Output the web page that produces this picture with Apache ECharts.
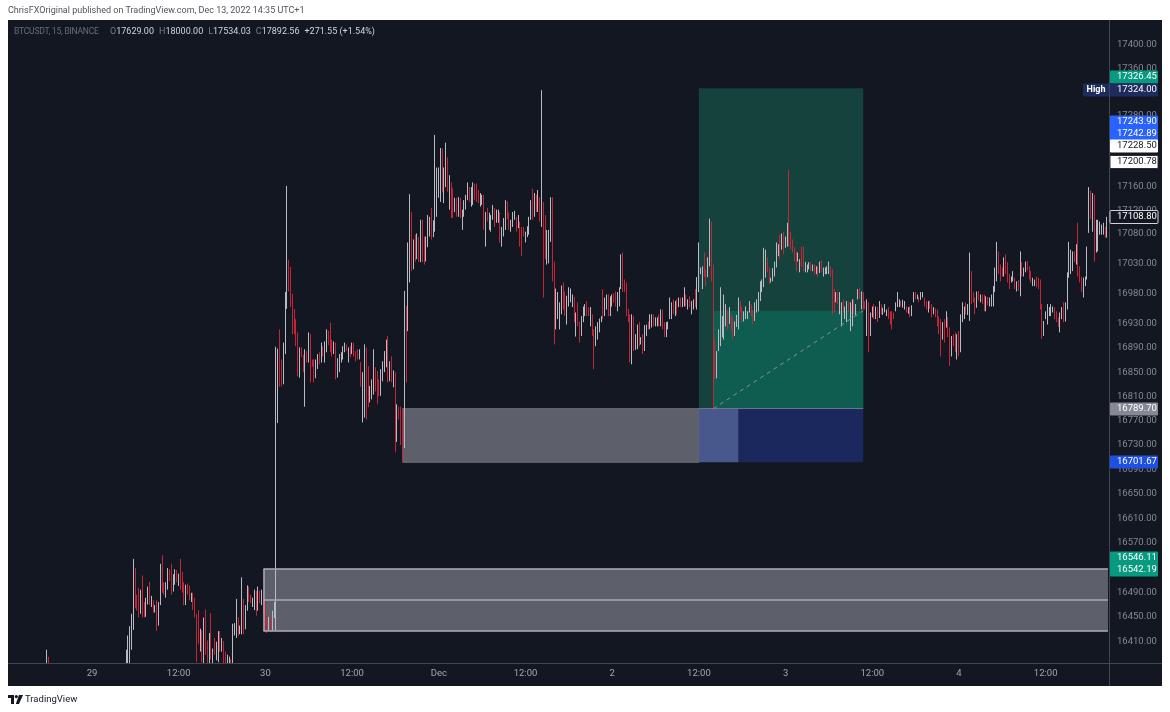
<!DOCTYPE html>
<html><head><meta charset="utf-8">
<script src="https://cdn.jsdelivr.net/npm/echarts@6/dist/echarts.min.js"></script>
<style>
html,body{margin:0;padding:0;background:#fff;}
#wrap{position:relative;width:1170px;height:712px;overflow:hidden;font-family:Roboto,'Liberation Sans',sans-serif;}
#panel{position:absolute;left:8px;top:20px;width:1154px;height:666px;background:#131722;}
#vsep{position:absolute;left:1109px;top:20px;width:1px;height:666px;background:#434651;}
#hsep{position:absolute;left:8px;top:663px;width:1154px;height:1px;background:#434651;}
#chart{position:absolute;left:0;top:0;width:1170px;height:712px;}
.t{position:absolute;white-space:pre;font-size:9.5px;line-height:12px;}
#legend{position:absolute;left:110px;top:25px;display:flex;gap:5px;font-size:9px;line-height:12px;white-space:pre;}
.lg{color:#787b86;} .lv{color:#d1d4dc;}
</style></head><body>
<div id="wrap">
<div id="panel"></div><div id="vsep"></div>
<div id="chart"></div>
<div id="hsep"></div>
<div class="t" style="left:8px;top:4px;color:#50535e;font-size:9px">ChrisFXOriginal published on TradingView.com, Dec 13, 2022 14:35 UTC+1</div>
<div class="t" style="left:14px;top:25px;color:#6a6d78;font-size:8.5px;letter-spacing:-0.2px">BTCUSDT, 15, BINANCE</div>
<div id="legend"><span><span class="lg">O</span><span class="lv">17629.00</span></span><span><span class="lg">H</span><span class="lv">18000.00</span></span><span><span class="lg">L</span><span class="lv">17534.03</span></span><span><span class="lg">C</span><span class="lv">17892.56</span></span><span class="lv">+271.55 (+1.54%)</span></div>
<svg style="position:absolute;left:8px;top:695px" width="15" height="9" viewBox="0 0 15 9"><path d="M0 0h6v9h-3v-6h-3z" fill="#131722"/><circle cx="8.3" cy="1.6" r="1.6" fill="#131722"/><path d="M11 0h4l-4 9h-3.2z" fill="#131722"/></svg>
<div class="t" style="left:25px;top:693px;color:#131722;font-size:9.5px">TradingView</div>
</div>
<script>
// ---- candles [open, close, low, high], 15-minute bars ----
const nov28 = [
[16255,16262,16250,16268],[16262,16258,16251,16266],[16262,16275,16255,16281],[16275,16268,16260,16282],[16268,16284,16264,16290],[16284,16279,16271,16292],[16279,16296,16275,16301],[16296,16288,16281,16303],[16288,16301,16284,16309],[16301,16312,16295,16318],[16312,16305,16298,16320],[16305,16318,16300,16326],
[16318,16327,16311,16335],[16327,16316,16309,16333],[16316,16324,16310,16331],[16324,16338,16319,16344],[16338,16330,16322,16347],[16330,16341,16326,16350],[16341,16352,16336,16360],[16352,16343,16337,16362],[16343,16350,16338,16358],[16350,16357,16344,16364],[16357,16349,16342,16366],[16349,16368,16345,16397],
[16368,16352,16346,16386],[16352,16340,16333,16360],[16340,16331,16322,16348],[16331,16318,16310,16339],[16318,16325,16309,16333],[16325,16311,16302,16330],[16311,16298,16290,16318],[16298,16305,16291,16313],[16305,16292,16285,16310],[16292,16280,16271,16299],[16280,16288,16274,16295],[16288,16276,16268,16293],
[16276,16264,16255,16283],[16264,16270,16258,16277],[16270,16259,16250,16276],[16259,16248,16240,16265],[16248,16256,16243,16262],[16256,16245,16238,16261],[16245,16252,16239,16259],[16252,16263,16247,16270],[16263,16255,16249,16268],[16255,16266,16251,16272],[16266,16258,16252,16271],[16258,16270,16254,16276]
];
const nov29 = [
[16270,16262,16256,16275],[16262,16274,16258,16280],[16274,16281,16268,16288],[16281,16276,16270,16290],[16276,16289,16272,16295],[16289,16298,16283,16305],[16298,16291,16285,16304],[16291,16303,16288,16310],[16303,16314,16297,16320],[16314,16306,16300,16319],[16306,16318,16302,16325],[16318,16327,16311,16334],
[16327,16321,16314,16333],[16321,16334,16318,16340],[16334,16342,16328,16350],[16342,16337,16330,16352],[16337,16348,16333,16356],[16348,16355,16341,16362],[16355,16350,16344,16366],[16352,16372,16346,16397],[16372,16390,16366,16420],[16390,16425,16368,16435],[16425,16450,16397,16455],[16450,16535,16429,16544],
[16527,16478,16464,16529],[16478,16470,16460,16486],[16470,16458,16449,16497],[16458,16490,16455,16494],[16490,16460,16449,16517],[16460,16452,16449,16474],[16452,16476,16450,16481],[16476,16495,16470,16499],[16495,16472,16469,16507],[16472,16478,16466,16484],[16476,16460,16457,16477],[16460,16468,16457,16469],
[16468,16440,16427,16477],[16440,16470,16436,16474],[16470,16528,16469,16536],[16528,16495,16489,16550],[16495,16488,16486,16506],[16488,16502,16481,16506],[16502,16522,16494,16529],[16522,16515,16508,16527],[16515,16492,16486,16536],[16492,16516,16491,16519],[16510,16524,16502,16527],[16524,16508,16506,16526],
[16508,16512,16500,16520],[16512,16498,16494,16544],[16498,16490,16489,16523],[16490,16472,16469,16506],[16472,16500,16469,16502],[16500,16492,16486,16504],[16492,16480,16477,16501],[16480,16486,16474,16489],[16486,16466,16461,16489],[16466,16452,16449,16481],[16452,16425,16377,16455],[16440,16410,16406,16461],
[16410,16425,16394,16431],[16425,16395,16377,16428],[16395,16440,16370,16449],[16440,16400,16389,16462],[16400,16392,16375,16412],[16392,16420,16368,16424],[16420,16390,16381,16456],[16390,16398,16368,16399],[16398,16392,16389,16416],[16392,16402,16380,16410],[16400,16420,16377,16427],[16424,16400,16394,16427],
[16400,16410,16394,16416],[16410,16385,16372,16411],[16385,16378,16366,16394],[16378,16388,16369,16389],[16380,16386,16372,16386],[16382,16375,16370,16382],[16375,16430,16368,16439],[16430,16436,16420,16440],[16436,16445,16416,16479],[16445,16428,16419,16449],[16428,16435,16422,16436],[16435,16500,16422,16514],
[16478,16432,16422,16479],[16432,16462,16430,16469],[16462,16495,16460,16501],[16495,16478,16474,16499],[16478,16474,16472,16486],[16474,16479,16466,16481],[16479,16490,16461,16494],[16490,16462,16452,16492],[16462,16492,16460,16499],[16492,16478,16472,16493],[16478,16490,16469,16494],[16490,16462,16456,16492]
];
const nov30 = [
[16462,16440,16430,16477],[16440,16432,16424,16452],[16432,16445,16428,16450],[16445,16430,16426,16448],[16430,16456,16428,16460],[16456,16462,16448,16474],[16462,16785,16428,16892],[16785,16875,16766,16889],[16875,16840,16826,16921],[16840,16833,16826,16871],[16833,16895,16830,16899],[16895,16970,16880,16983],
[16970,17030,16955,17161],[17030,16990,16984,17037],[16990,16970,16958,17025],[16970,16935,16913,16980],[16935,16920,16913,16955],[16920,16900,16893,16938],[16900,16853,16843,16916],[16853,16880,16841,16891],[16880,16877,16875,16891],[16877,16855,16850,16879],[16855,16880,16793,16888],[16880,16869,16866,16885],
[16869,16907,16866,16916],[16907,16865,16833,16913],[16865,16861,16859,16871],[16861,16840,16833,16871],[16840,16865,16840,16871],[16865,16875,16855,16880],[16875,16871,16863,16883],[16871,16893,16866,16899],[16893,16879,16876,16893],[16879,16895,16866,16901],[16895,16913,16883,16921],[16913,16905,16895,16919],
[16905,16887,16883,16932],[16887,16880,16876,16904],[16880,16897,16880,16901],[16897,16845,16838,16899],[16845,16867,16841,16873],[16867,16875,16850,16880],[16873,16881,16866,16883],[16881,16887,16871,16893],[16887,16895,16883,16899],[16895,16887,16885,16896],[16887,16890,16866,16891],[16890,16885,16875,16893],
[16885,16897,16880,16899],[16897,16880,16876,16899],[16880,16871,16868,16885],[16885,16875,16871,16888],[16875,16885,16871,16888],[16863,16835,16826,16867],[16835,16845,16767,16850],[16845,16885,16775,16896],[16885,16815,16772,16891],[16815,16807,16792,16860],[16807,16820,16800,16827],[16813,16830,16805,16838],
[16830,16875,16813,16888],[16855,16825,16818,16858],[16825,16807,16797,16852],[16830,16815,16810,16838],[16815,16850,16811,16855],[16850,16863,16835,16868],[16863,16880,16850,16885],[16880,16897,16858,16904],[16897,16840,16833,16910],[16840,16863,16835,16868],[16863,16840,16833,16876],[16840,16845,16825,16853],
[16845,16755,16718,16850],[16755,16790,16735,16797],[16790,16777,16772,16793],[16777,16740,16730,16793],[16740,16730,16702,16788],[16733,16955,16725,16985],[16955,16920,16833,16960],[16920,17055,16918,17066],[17055,17125,16999,17147],[17115,17030,17018,17117],[17030,17065,17021,17071],[17065,17040,17034,17079],
[17040,17073,17038,17081],[17073,17037,17033,17075],[17037,17095,17033,17104],[17095,17045,17033,17104],[17045,17035,17029,17076],[17035,17070,17034,17076],[17070,17085,17058,17112],[17085,17107,17076,17109],[17107,17080,17071,17124],[17080,17095,17075,17103],[17095,17135,17084,17247],[17135,17155,17109,17192]
];
const dec1 = [
[17145,17185,17141,17192],[17155,17215,17134,17225],[17215,17165,17150,17224],[17145,17180,17132,17192],[17175,17225,17159,17234],[17205,17160,17151,17209],[17135,17173,17121,17179],[17165,17115,17107,17167],[17145,17113,17107,17157],[17119,17139,17117,17141],[17137,17113,17109,17141],[17113,17135,17109,17142],
[17135,17111,17107,17141],[17093,17115,17087,17121],[17113,17133,17109,17137],[17127,17143,17121,17146],[17140,17163,17137,17167],[17157,17137,17134,17159],[17131,17153,17126,17159],[17135,17161,17129,17167],[17161,17141,17137,17165],[17155,17140,17134,17165],[17150,17135,17132,17154],[17130,17147,17126,17149],
[17135,17145,17129,17146],[17145,17095,17087,17146],[17065,17110,17059,17117],[17120,17105,17101,17124],[17093,17113,17087,17116],[17089,17109,17084,17112],[17107,17125,17104,17129],[17123,17097,17092,17124],[17101,17117,17099,17121],[17103,17119,17099,17121],[17115,17073,17066,17117],[17063,17089,17059,17092],
[17083,17103,17076,17107],[17095,17131,17087,17137],[17131,17113,17105,17135],[17113,17093,17087,17116],[17089,17101,17084,17104],[17097,17113,17092,17117],[17107,17117,17104,17119],[17107,17089,17084,17109],[17093,17107,17090,17112],[17099,17070,17059,17101],[17087,17053,17043,17092],[17090,17079,17076,17092],
[17070,17081,17066,17084],[17081,17087,17075,17093],[17085,17105,17079,17109],[17107,17133,17104,17137],[17145,17111,17104,17156],[17113,17141,17109,17149],[17143,17121,17117,17146],[17121,17147,17117,17154],[17140,17105,17101,17142],[17105,17130,17092,17323],[17130,17055,16974,17134],[17105,17043,17038,17112],
[17035,17080,17029,17087],[17055,17083,17031,17087],[17075,17135,17067,17142],[17135,17010,17001,17142],[17025,16920,16896,17034],[16925,16980,16921,16989],[16945,16975,16938,16983],[16930,16957,16921,16966],[16953,16987,16946,16994],[16993,16961,16954,16999],[16980,16950,16943,16984],[16940,16970,16929,16977],
[16965,16985,16959,16991],[16970,16987,16966,16989],[16963,16977,16958,16979],[16973,16940,16933,16975],[16915,16945,16909,16949],[16963,16933,16926,16966],[16933,16905,16899,16934],[16913,16939,16910,16943],[16937,16955,16933,16959],[16947,16960,16943,16963],[16965,16947,16943,16968],[16955,16945,16943,16958],
[16931,16953,16926,16958],[16945,16915,16910,16946],[16915,16895,16855,16921],[16897,16921,16893,16926],[16910,16929,16904,16933],[16920,16935,16916,16939],[16934,16941,16933,16943],[16980,16943,16938,16988],[16945,16970,16943,16974],[16957,16975,16954,16979],[16975,16947,16943,16979],[16947,16971,16943,16976]
];
const dec2 = [
[16963,16977,16959,16979],[16977,16970,16965,16981],[16980,16963,16959,16984],[16957,16977,16951,16983],[16965,16987,16959,16991],[16990,17035,16988,17046],[17035,16993,16983,17049],[17000,16987,16983,17004],[16993,16950,16943,16999],[16950,16940,16933,16955],[16940,16875,16866,16946],[16875,16935,16863,16946],
[16935,16893,16885,16943],[16893,16905,16887,16913],[16900,16925,16888,16929],[16927,16900,16893,16933],[16898,16907,16896,16908],[16907,16885,16880,16913],[16887,16923,16885,16928],[16913,16927,16910,16929],[16931,16923,16921,16934],[16923,16941,16921,16946],[16930,16943,16924,16946],[16943,16929,16926,16946],
[16929,16939,16926,16941],[16931,16940,16926,16941],[16943,16930,16926,16946],[16931,16950,16926,16954],[16951,16927,16921,16954],[16930,16913,16908,16933],[16913,16929,16908,16933],[16925,16932,16921,16934],[16940,16967,16938,16974],[16945,16961,16938,16966],[16967,16951,16946,16971],[16949,16965,16943,16968],
[16967,16950,16946,16971],[16959,16971,16958,16974],[16971,16961,16958,16974],[16961,16972,16958,16974],[16963,16987,16959,16991],[16977,16963,16959,16979],[16957,16969,16954,16971],[16973,16961,16958,16976],[16950,16965,16946,16968],[16957,16969,16954,16971],[16980,16961,16958,16988],[16961,17000,16954,17008],
[16990,17055,16983,17066],[17015,17023,17013,17024],[16993,17020,16988,17026],[17040,17015,17009,17049],[17017,16997,16993,17021],[17010,17035,17008,17041],[17035,17095,17026,17106],[17095,17025,17001,17101],[17025,16855,16789,17029],[16855,16843,16838,16904],[16843,16875,16840,16885],[16887,16915,16885,16921],
[16900,16980,16893,16991],[16915,16939,16908,16943],[16925,16970,16904,16979],[16935,16957,16926,16963],[16953,16927,16921,16954],[16930,16953,16930,16958],[16945,16923,16918,16946],[16930,16910,16904,16941],[16913,16931,16910,16934],[16931,16939,16925,16945],[16927,16967,16921,16974],[16967,16953,16949,16968],
[16955,16937,16933,16959],[16937,16949,16934,16951],[16941,16957,16938,16959],[16940,16950,16938,16951],[16951,16965,16949,16968],[16963,16947,16943,16963],[16950,16933,16929,16954],[16935,16961,16935,16966],[16953,16967,16949,16971],[16957,16979,16951,16983],[16973,16995,16968,17001],[16995,17001,16983,17004],
[16995,17050,16991,17057],[17015,17047,17007,17054],[17040,17020,17016,17041],[17021,17000,16996,17024],[17000,17005,16999,17007],[17005,17017,17001,17023],[17013,17031,17009,17034],[17027,17060,17024,17066],[17045,17059,17043,17063],[17061,17043,17038,17079],[17055,17077,17054,17081],[17080,17050,17046,17084]
];
const dec3 = [
[17057,17073,17057,17076],[17065,17093,17059,17099],[17093,17065,17059,17188],[17075,17057,17054,17084],[17067,17053,17049,17071],[17053,17037,17034,17058],[17045,17023,17018,17051],[17035,17047,17034,17049],[17020,17035,17016,17038],[17055,17030,17026,17059],[17053,17025,17018,17059],[17020,17031,17016,17033],
[17021,17028,17016,17029],[17023,17031,17021,17033],[17031,17021,17018,17033],[17020,17028,17018,17029],[17028,17016,17013,17029],[17015,17025,17013,17026],[17025,17012,17009,17026],[17015,17031,17015,17034],[17033,17019,17016,17036],[17013,17022,17009,17024],[17015,17023,17013,17024],[17017,17025,17013,17026],
[17019,17031,17013,17034],[17025,17013,17009,17026],[17013,16955,16946,17021],[16980,16957,16949,16988],[16968,16980,16966,16983],[16981,16965,16963,16983],[16950,16977,16946,16983],[16933,16961,16926,16966],[16967,16952,16949,16971],[16941,16955,16938,16959],[16937,16963,16933,16968],[16963,16955,16950,16967],
[16925,16957,16918,16966],[16935,16965,16926,16971],[16967,16950,16946,16971],[16950,16957,16945,16963],[16971,16985,16971,16988],[16985,16977,16972,16990],[16957,16980,16954,16984],[16980,16957,16954,16983],[16965,16955,16954,16968],[16920,16963,16910,16971],[16960,16900,16883,16966],[16913,16943,16910,16949],
[16943,16955,16941,16959],[16957,16941,16938,16963],[16941,16957,16938,16959],[16955,16937,16933,16958],[16940,16963,16940,16968],[16961,16949,16946,16963],[16949,16953,16945,16957],[16951,16960,16949,16963],[16945,16952,16943,16954],[16955,16941,16938,16958],[16945,16933,16929,16951],[16937,16925,16921,16951],
[16947,16940,16938,16949],[16953,16963,16951,16966],[16961,16979,16958,16983],[16960,16969,16958,16971],[16967,16961,16959,16968],[16961,16965,16957,16970],[16957,16966,16954,16968],[16958,16951,16949,16959],[16951,16955,16947,16958],[16953,16945,16941,16959],[16945,16957,16943,16961],[16967,16980,16966,16983],
[16980,16975,16971,16983],[16973,16977,16971,16979],[16974,16968,16966,16975],[16970,16981,16970,16983],[16975,16981,16974,16983],[16973,16963,16959,16974],[16965,16957,16954,16968],[16953,16965,16949,16968],[16965,16961,16955,16969],[16961,16945,16941,16963],[16947,16956,16946,16958],[16955,16945,16941,16956],
[16951,16930,16926,16954],[16939,16917,16913,16943],[16930,16890,16876,16938],[16907,16927,16904,16933],[16930,16905,16899,16938],[16925,16947,16924,16951],[16940,16913,16908,16941],[16920,16875,16860,16924],[16880,16905,16876,16910],[16905,16900,16893,16913],[16910,16890,16883,16916],[16880,16907,16871,16913]
];
const dec4 = [
[16910,16885,16876,16918],[16887,16940,16883,16946],[16937,16960,16933,16966],[16943,16955,16938,16959],[16963,16950,16946,16966],[16950,16957,16945,16963],[16950,17025,16935,17049],[17015,16970,16963,17018],[16980,16970,16966,16983],[16971,16953,16946,16974],[16957,16980,16957,16984],[16980,16975,16969,16985],
[16969,16977,16966,16979],[16977,16965,16963,16979],[16975,16957,16951,16979],[16955,16971,16951,16976],[16971,16967,16961,16975],[16963,16971,16959,16974],[16965,16975,16959,16979],[16967,16987,16959,16993],[16987,17017,16983,17024],[17010,17055,17001,17067],[17050,17020,17013,17051],[17025,17005,17001,17029],
[17021,17011,17009,17024],[17011,17035,17009,17041],[17040,17017,17013,17046],[17025,17005,16999,17033],[17010,16991,16988,17013],[17000,17007,16999,17009],[17003,17015,17001,17018],[17005,16991,16988,17007],[16987,16997,16984,17001],[16997,16993,16985,17003],[16993,17040,16976,17051],[17031,17013,17009,17033],
[17011,17021,17009,17024],[17019,17031,17016,17034],[17031,17025,17019,17035],[17025,17007,17004,17026],[17013,17001,16999,17018],[16995,17005,16993,17007],[16997,17003,16993,17004],[17007,16993,16991,17009],[17003,16990,16988,17007],[16995,16965,16954,17004],[16961,16915,16905,16963],[16915,16930,16910,16935],
[16939,16949,16938,16951],[16933,16957,16929,16963],[16945,16955,16943,16958],[16947,16960,16943,16963],[16951,16957,16949,16959],[16957,16941,16938,16958],[16947,16935,16933,16951],[16935,16931,16925,16941],[16920,16945,16916,16949],[16940,16955,16938,16958],[16960,16937,16933,16966],[16937,16961,16934,16966],
[16961,17010,16954,17016],[17010,17060,17007,17067],[17020,17047,17013,17054],[17025,17045,17018,17051],[17049,17035,17033,17051],[17033,17057,17029,17063],[17055,17015,17009,17099],[17023,17003,16999,17026],[17005,16987,16983,17009],[16980,17003,16974,17007],[16995,17007,16993,17009],[17007,17053,17004,17059],
[17085,17145,17082,17159],[17145,17135,17105,17153],[17095,17135,17084,17149],[17135,17055,17034,17146],[17055,17095,17049,17104],[17057,17100,17051,17104],[17083,17097,17079,17101],[17085,17093,17079,17096],[17081,17095,17079,17099],[17091,17079,17074,17092],[17080,17108.8,17074,17109]
];

// ---- axis ticks ----
const xTickTimes = [Date.UTC(2022,10,29,0),Date.UTC(2022,10,29,12),Date.UTC(2022,10,30,0),Date.UTC(2022,10,30,12),Date.UTC(2022,11,1,0),Date.UTC(2022,11,1,12),Date.UTC(2022,11,2,0),Date.UTC(2022,11,2,12),Date.UTC(2022,11,3,0),Date.UTC(2022,11,3,12),Date.UTC(2022,11,4,0),Date.UTC(2022,11,4,12)];
const xTickLabels = ['29','12:00','30','12:00','Dec','12:00','2','12:00','3','12:00','4','12:00'];
const yTicks = [17400,17360,17320,17280,17240,17200,17160,17120,17080,17030,16980,16930,16890,16850,16810,16770,16730,16690,16650,16610,16570,16530,16490,16450,16410];

// ---- drawing anchors (time, price) ----
const entryPrice = 16789.70, targetPrice = 17326.45, stopPrice = 16701.67, posClosePrice = 16952;
const lowerBox = [16427, 16478, 16528];
const priceLabels = [17326.45, 17324.00, 17243.90, 17242.89, 17228.50, 17200.78, 17108.80, 16789.70, 16701.67, 16546.11, 16542.19];

const M15 = 15 * 60 * 1000;
const days = [[Date.UTC(2022,10,28,12), nov28],[Date.UTC(2022,10,29), nov29],[Date.UTC(2022,10,30), nov30],[Date.UTC(2022,11,1), dec1],[Date.UTC(2022,11,2), dec2],[Date.UTC(2022,11,3), dec3],[Date.UTC(2022,11,4), dec4]];
const candles = [];
days.forEach(([t0, rows]) => rows.forEach((r, i) => candles.push([t0 + i * M15, r[0], r[1], r[2], r[3]])));

const xMin = Date.UTC(2022,10,28,12,22,30), xMax = Date.UTC(2022,11,4,20,37,30);
const tDemandL = Date.UTC(2022,10,30,19), tPosL = Date.UTC(2022,11,2,12), tPosFill = Date.UTC(2022,11,2,14), tStopSplit = Date.UTC(2022,11,2,17,30), tPosR = Date.UTC(2022,11,3,10,45), tBoxL = Date.UTC(2022,10,29,23,45);

const chart = echarts.init(document.getElementById('chart'), null, {renderer: 'canvas'});
const area = (x1, y1, x2, y2, fill, border, bw) => [{xAxis: x1, yAxis: y1, itemStyle: {color: fill, borderColor: border || 'transparent', borderWidth: bw || 0}}, {xAxis: x2, yAxis: y2}];
const seg = (x1, y1, x2, y2, style) => [{coord: [x1, y1], lineStyle: style}, {coord: [x2, y2]}];
const boxEdge = {color: '#a8abb3', width: 1.5, type: 'solid'};
chart.setOption({
  animation: false,
  backgroundColor: 'transparent',
  grid: {left: 8, top: 20, width: 1100, height: 643, show: false},
  xAxis: {
    type: 'value', min: xMin, max: xMax, scale: true, z: 10,
    axisLine: {show: false}, axisTick: {show: false}, splitLine: {show: false},
    axisLabel: {customValues: xTickTimes, color: '#a3a6af', fontSize: 9.5, fontFamily: 'Roboto', margin: 6, hideOverlap: false,
      formatter: v => { const i = xTickTimes.indexOf(+v); return i >= 0 ? xTickLabels[i] : ''; }}
  },
  yAxis: {
    type: 'log', logBase: 10, min: 16375.7, max: 17442.8, position: 'right',
    axisLine: {show: false}, axisTick: {show: false}, splitLine: {show: false},
    axisLabel: {customValues: yTicks, color: '#868993', fontSize: 9.5, fontFamily: 'Roboto', margin: 9, hideOverlap: false,
      formatter: v => Number(v).toFixed(2)}
  },
  series: [{
    type: 'candlestick', data: candles, encode: {x: 0, y: [1, 2, 3, 4]},
    large: false, clip: true, barWidth: 1,
    itemStyle: {color: '#b8bbc3', color0: '#c62538', borderColor: '#b8bbc3', borderColor0: '#c62538', borderWidth: 1},
    markArea: {silent: true, data: [
      area(tBoxL, lowerBox[0], xMax, lowerBox[2], '#5d606b'),
      area(tDemandL, stopPrice, tPosL, entryPrice, '#5d606b', '#6f727c', 1),
      area(tPosL, entryPrice, tPosR, targetPrice, '#16423d'),
      area(tPosFill, entryPrice, tPosR, posClosePrice, '#0f5d51'),
      area(tPosL, stopPrice, tStopSplit, entryPrice, '#48588c'),
      area(tStopSplit, stopPrice, tPosR, entryPrice, '#1a285e')
    ]},
    markLine: {silent: true, symbol: ['none', 'none'], label: {show: false}, data: [
      seg(tBoxL, lowerBox[2], xMax, lowerBox[2], boxEdge),
      seg(tBoxL, lowerBox[1], xMax, lowerBox[1], boxEdge),
      seg(tBoxL, lowerBox[0], xMax, lowerBox[0], boxEdge),
      seg(tBoxL, lowerBox[0], tBoxL, lowerBox[2], boxEdge),
      seg(tPosL, entryPrice, tPosR, entryPrice, {color: '#6d7488', width: 1, type: 'solid'}),
      seg(tPosFill, entryPrice, tPosR, posClosePrice, {color: '#8a8f9c', width: 1, type: [4, 4]})
    ]}
  }]
});

// time-scale strip drawn over the plot's lower edge so bars below the price range stay hidden
const gridRect = chart.getModel().getComponent('grid').coordinateSystem.getRect();
const g = [{type: 'rect', z: 3, silent: true, shape: {x: gridRect.x, y: gridRect.y + gridRect.height, width: gridRect.width, height: 686 - gridRect.y - gridRect.height}, style: {fill: '#131722'}}];

// price labels on the scale
const labelStyle = [
  {bg: '#089981', fg: '#fff', dy: -11},
  {bg: '#1e2b5e', fg: '#fff', dy: 0, tag: 'High'},
  {bg: '#2962ff', fg: '#fff', dy: -15},
  {bg: '#2962ff', fg: '#fff', dy: -3},
  {bg: '#ffffff', fg: '#131722', dy: 0},
  {bg: '#ffffff', fg: '#131722', dy: 0, border: '#2a2e39'},
  {bg: '#131722', fg: '#ffffff', dy: 0, border: '#d1d4dc'},
  {bg: '#868993', fg: '#fff', dy: 0},
  {bg: '#2050e0', fg: '#fff', dy: 0},
  {bg: '#089981', fg: '#fff', dy: 0},
  {bg: '#089981', fg: '#fff', dy: 10}
];
priceLabels.forEach((v, i) => {
  const s = labelStyle[i];
  const y = Math.round(chart.convertToPixel({yAxisIndex: 0}, v) + s.dy);
  g.push({type: 'rect', z: 100, shape: {x: 1110, y: y - 6.5, width: 48, height: 13, r: 1}, style: {fill: s.bg, stroke: s.border || null, lineWidth: 1}});
  g.push({type: 'text', z: 101, x: 1117, y: y, style: {text: v.toFixed(2), fill: s.fg, fontSize: 9.5, fontFamily: 'Roboto', align: 'left', verticalAlign: 'middle'}});
  if (s.tag) {
    g.push({type: 'rect', z: 100, shape: {x: 1083, y: y - 6.5, width: 26, height: 13}, style: {fill: s.bg}});
    g.push({type: 'text', z: 101, x: 1096, y: y, style: {text: s.tag, fill: '#fff', fontSize: 9, fontWeight: 'bold', fontFamily: 'Roboto', align: 'center', verticalAlign: 'middle'}});
  }
});
chart.setOption({graphic: g});
</script>
</body></html>
